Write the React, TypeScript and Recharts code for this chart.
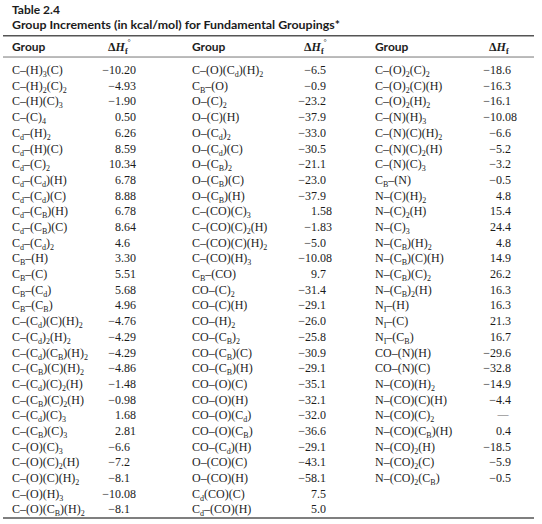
import React from 'react';
import { ScatterChart, Scatter, XAxis, YAxis, ReferenceLine } from 'recharts';

// "_x" marks a one-character subscript, null marks a missing value
const titleLines = ['Table 2.4', 'Group Increments (in kcal/mol) for Fundamental Groupings*'];

const leftGroups = [
  'C–(H)_3(C)', 'C–(H)_2(C)_2', 'C–(H)(C)_3', 'C–(C)_4', 'C_d–(H)_2', 'C_d–(H)(C)',
  'C_d–(C)_2', 'C_d–(C_d)(H)', 'C_d–(C_d)(C)', 'C_d–(C_B)(H)', 'C_d–(C_B)(C)', 'C_d–(C_d)_2',
  'C_B–(H)', 'C_B–(C)', 'C_B–(C_d)', 'C_B–(C_B)', 'C–(C_d)(C)(H)_2', 'C–(C_d)_2(H)_2',
  'C–(C_d)(C_B)(H)_2', 'C–(C_B)(C)(H)_2', 'C–(C_d)(C)_2(H)', 'C–(C_B)(C)_2(H)', 'C–(C_d)(C)_3',
  'C–(C_B)(C)_3', 'C–(O)(C)_3', 'C–(O)(C)_2(H)', 'C–(O)(C)(H)_2', 'C–(O)(H)_3', 'C–(O)(C_B)(H)_2',
];
const leftValues = [
  '-10.20', '-4.93', '-1.90', '0.50', '6.26', '8.59', '10.34', '6.78', '8.88', '6.78', '8.64',
  '4.6', '3.30', '5.51', '5.68', '4.96', '-4.76', '-4.29', '-4.29', '-4.86', '-1.48', '-0.98',
  '1.68', '2.81', '-6.6', '-7.2', '-8.1', '-10.08', '-8.1',
];

const middleGroups = [
  'C–(O)(C_d)(H)_2', 'C_B–(O)', 'O–(C)_2', 'O–(C)(H)', 'O–(C_d)_2', 'O–(C_d)(C)', 'O–(C_B)_2',
  'O–(C_B)(C)', 'O–(C_B)(H)', 'C–(CO)(C)_3', 'C–(CO)(C)_2(H)', 'C–(CO)(C)(H)_2', 'C–(CO)(H)_3',
  'C_B–(CO)', 'CO–(C)_2', 'CO–(C)(H)', 'CO–(H)_2', 'CO–(C_B)_2', 'CO–(C_B)(C)', 'CO–(C_B)(H)',
  'CO–(O)(C)', 'CO–(O)(H)', 'CO–(O)(C_d)', 'CO–(O)(C_B)', 'CO–(C_d)(H)', 'O–(CO)(C)', 'O–(CO)(H)',
  'C_d(CO)(C)', 'C_d–(CO)(H)',
];
const middleValues = [
  '-6.5', '-0.9', '-23.2', '-37.9', '-33.0', '-30.5', '-21.1', '-23.0', '-37.9', '1.58', '-1.83',
  '-5.0', '-10.08', '9.7', '-31.4', '-29.1', '-26.0', '-25.8', '-30.9', '-29.1', '-35.1', '-32.1',
  '-32.0', '-36.6', '-29.1', '-43.1', '-58.1', '7.5', '5.0',
];

const rightGroups = [
  'C–(O)_2(C)_2', 'C–(O)_2(C)(H)', 'C–(O)_2(H)_2', 'C–(N)(H)_3', 'C–(N)(C)(H)_2', 'C–(N)(C)_2(H)',
  'C–(N)(C)_3', 'C_B–(N)', 'N–(C)(H)_2', 'N–(C)_2(H)', 'N–(C)_3', 'N–(C_B)(H)_2', 'N–(C_B)(C)(H)',
  'N–(C_B)(C)_2', 'N–(C_B)_2(H)', 'N_I–(H)', 'N_I–(C)', 'N_I–(C_B)', 'CO–(N)(H)', 'CO–(N)(C)',
  'N–(CO)(H)_2', 'N–(CO)(C)(H)', 'N–(CO)(C)_2', 'N–(CO)(C_B)(H)', 'N–(CO)_2(H)', 'N–(CO)_2(C)',
  'N–(CO)_2(C_B)',
];
const rightValues = [
  '-18.6', '-16.3', '-16.1', '-10.08', '-6.6', '-5.2', '-3.2', '-0.5', '4.8', '15.4', '24.4', '4.8',
  '14.9', '26.2', '16.3', '16.3', '21.3', '16.7', '-29.6', '-32.8', '-14.9', '-4.4', null, '0.4',
  '-18.5', '-5.9', '-0.5',
];

const columns = [
  { groups: leftGroups, values: leftValues, degree: true },
  { groups: middleGroups, values: middleValues, degree: true },
  { groups: rightGroups, values: rightValues, degree: false },
];

// layout (in row units on the y axis, pixel offsets from each column's x)
const W = 542;
const H = 524;
const TITLE_ROWS = [-3.82, -2.87];
const HEADER_ROW = -1.47;
const RULE_TOP = -2.18;
const RULE_HEADER = -0.83;
const RULE_BOTTOM = 28.55;
const COLUMN_LAYOUT = [
  { groupDx: 9, valueDx: 118 },
  { groupDx: 12, valueDx: 137 },
  { groupDx: 18, valueDx: 145 },
];
const SERIF = '"Liberation Serif", "DejaVu Serif", serif';
const SANS = 'Lato, "Open Sans", sans-serif';
const INK = '#1c1c1c';

const cells = columns.flatMap((c, col) =>
  c.groups.map((group, row) => ({ col, row, group, value: c.values[row] }))
);
const headers = columns.map((c, col) => ({ col, row: HEADER_ROW, degree: c.degree }));
const titles = titleLines.map((text, i) => ({ col: 0, row: TITLE_ROWS[i], text }));

const rich = (text: string) => {
  const parts: React.ReactNode[] = [];
  let offset = 0;
  let buf = '';
  const flush = (key: number) => {
    if (!buf) return;
    parts.push(
      <tspan key={`t${key}`} dy={-offset}>
        {buf}
      </tspan>
    );
    offset = 0;
    buf = '';
  };
  for (let i = 0; i < text.length; i++) {
    if (text[i] === '_' && i + 1 < text.length) {
      flush(i);
      parts.push(
        <tspan key={`s${i}`} dy={3 - offset} fontSize={8}>
          {text[i + 1]}
        </tspan>
      );
      offset = 3;
      i++;
    } else {
      buf += text[i];
    }
  }
  flush(text.length);
  return parts;
};

const CellShape = (props: any) => {
  const { cx, cy, payload } = props;
  const lay = COLUMN_LAYOUT[payload.col];
  const baseline = cy + 4;
  const vx = cx + lay.valueDx;
  const v: string | null = payload.value;
  let valueNode: React.ReactNode;
  if (v === null) {
    valueNode = (
      <text x={vx + 1} y={baseline - 1} textAnchor="middle" fontSize={11} fill="#666">
        —
      </text>
    );
  } else {
    const [intPart, frac] = v.replace('-', '−').split('.');
    valueNode = (
      <>
        <text x={vx} y={baseline} textAnchor="end">
          {intPart}
        </text>
        <text x={vx} y={baseline} textAnchor="start">
          .{frac}
        </text>
      </>
    );
  }
  return (
    <g fontFamily={SERIF} fontSize={12} fill={INK}>
      <text x={cx + lay.groupDx} y={baseline}>
        {rich(payload.group)}
      </text>
      {valueNode}
    </g>
  );
};

const HeaderShape = (props: any) => {
  const { cx, cy, payload } = props;
  const lay = COLUMN_LAYOUT[payload.col];
  const baseline = cy + 4;
  return (
    <g fill={INK}>
      <text x={cx + lay.groupDx} y={baseline} fontFamily={SANS} fontWeight={700} fontSize={12}>
        Group
      </text>
      <text x={cx + lay.valueDx - 13} y={baseline} fontFamily={SERIF} fontWeight={700} fontSize={12}>
        <tspan>Δ</tspan>
        <tspan fontStyle="italic">H</tspan>
        <tspan fontSize={8} dy={3}>
          f
        </tspan>
        {payload.degree && (
          <tspan fontSize={8} dy={-9} fontWeight={400}>
            °
          </tspan>
        )}
      </text>
    </g>
  );
};

const TitleShape = (props: any) => {
  const { cx, cy, payload } = props;
  const long = payload.text.length > 20;
  return (
    <text
      x={cx + 9}
      y={cy + 4}
      fontFamily={SANS}
      fontWeight={700}
      fontSize={12}
      fill={INK}
      textLength={long ? 328 : undefined}
      lengthAdjust="spacingAndGlyphs"
    >
      {payload.text}
    </text>
  );
};

export default function App() {
  return (
    <div style={{ position: 'absolute', left: 0, top: 0, width: W, height: H, background: '#fff' }}>
      <ScatterChart width={W} height={H} margin={{ top: 1, right: 8, bottom: 2, left: 3 }}>
        <XAxis type="number" dataKey="col" domain={[0, 3]} hide />
        <YAxis type="number" dataKey="row" domain={[-4.4, 28.8]} reversed hide />
        <ReferenceLine y={RULE_TOP} stroke="#555" strokeWidth={1.5} />
        <ReferenceLine y={RULE_HEADER} stroke="#777" strokeWidth={1} />
        <ReferenceLine y={RULE_BOTTOM} stroke="#555" strokeWidth={1.5} />
        <Scatter data={titles} shape={TitleShape} isAnimationActive={false} />
        <Scatter data={headers} shape={HeaderShape} isAnimationActive={false} />
        <Scatter data={cells} shape={CellShape} isAnimationActive={false} />
      </ScatterChart>
    </div>
  );
}
